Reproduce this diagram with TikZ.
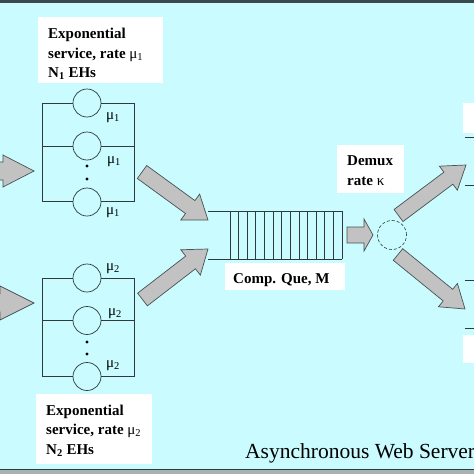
\documentclass[tikz,border=0pt]{standalone}
\usepackage{fontspec}
\setmainfont{Liberation Serif}
\usetikzlibrary{calc}
\definecolor{bgc}{HTML}{C9FBFF}
\definecolor{linec}{HTML}{2F3B3B}
\definecolor{arrfill}{HTML}{C2C2C2}
\definecolor{arrline}{HTML}{4A5252}
\definecolor{topbar}{HTML}{3A4A4A}
\definecolor{botbar}{HTML}{A9B2B2}
\tikzset{
  blockarrow/.style={fill=arrfill,draw=arrline,line width=0.7pt,line join=miter},
  wire/.style={draw=linec,line width=0.8pt},
  server/.style={circle,draw=linec,line width=0.7pt,fill=bgc,minimum size=28pt,inner sep=0pt},
  demuxc/.style={circle,draw=linec,line width=0.6pt,densely dashed,fill=bgc,minimum size=29pt,inner sep=0pt},
  dotc/.style={circle,fill=black,minimum size=3.4pt,inner sep=0pt},
  wbox/.style={fill=white,draw=none},
  boxtxt/.style={anchor=base west,inner sep=0pt,font=\bfseries\fontsize{15}{18}\selectfont},
  mulab/.style={anchor=base west,inner sep=0pt,font=\fontsize{15}{17}\selectfont},
}
\newcommand\blockarrow[6]{%
  \coordinate (#1h) at ($(#3)!#6!(#2)$);
  \filldraw[blockarrow] ($(#2)!#4!90:(#3)$) -- ($(#1h)!#4!-90:(#2)$) -- ($(#1h)!#5!-90:(#2)$) -- (#3)
    -- ($(#1h)!#5!90:(#2)$) -- ($(#1h)!#4!90:(#2)$) -- ($(#2)!#4!-90:(#3)$) -- cycle;
}
\begin{document}
\begin{tikzpicture}[x=1pt,y=-1pt]
\useasboundingbox (0,0) rectangle (474,474);
\clip (0,0) rectangle (474,474);
\fill[bgc] (0,0) rectangle (474,474);
\fill[topbar] (0,0) rectangle (474,2.5);
\fill[botbar] (0,469) rectangle (474,474);
\draw[linec,line width=1.2pt] (0,469.5) -- (474,469.5);

% ---- top server group ----
\draw[wire] (42,103) rectangle (134,201.5);
\draw[wire] (42,146) -- (134,146);
\node[server] (s11) at (87,103) {};
\node[server] (s12) at (87,146) {};
\node[server] (s13) at (87,202) {};
\node[dotc] (d11) at (87,166) {};
\node[dotc] (d12) at (87,179) {};
\node[mulab] (m11) at (106,119) {μ\textsubscript{1}};
\node[mulab] (m12) at (107,163) {μ\textsubscript{1}};
\node[mulab] (m13) at (106,214) {μ\textsubscript{1}};

% ---- bottom server group ----
\draw[wire] (42,278) rectangle (134,376);
\draw[wire] (42,320.5) -- (134,320.5);
\node[server] (s21) at (87,278) {};
\node[server] (s22) at (87,320.5) {};
\node[server] (s23) at (87,376.5) {};
\node[dotc] (d21) at (87,342) {};
\node[dotc] (d22) at (87,354) {};
\node[mulab] (m21) at (106,270) {μ\textsubscript{2}};
\node[mulab] (m22) at (108,315) {μ\textsubscript{2}};
\node[mulab] (m23) at (106,367) {μ\textsubscript{2}};

% ---- label boxes ----
\fill[wbox] (38,17) rectangle (163,83);
\node[boxtxt] (t1a) at (48,38) {Exponential};
\node[boxtxt] (t1b) at (48,58.5) {service, rate {\mdseries μ\textsubscript{1}}};
\node[boxtxt] (t1c) at (48,77.5) {N\textsubscript{1} EHs};

\fill[wbox] (36,394) rectangle (152,464);
\node[boxtxt] (t2a) at (46,415) {Exponential};
\node[boxtxt] (t2b) at (46,434.5) {service, rate {\mdseries μ\textsubscript{2}}};
\node[boxtxt] (t2c) at (46,454) {N\textsubscript{2} EHs};

% ---- queue ----
\draw[wire] (208,211) -- (342,211);
\draw[wire] (208,259) -- (342,259);
\foreach \i in {0,...,13} \draw[wire,line width=0.7pt] (230+\i*8.615,211) -- (230+\i*8.615,259);
\fill[wbox] (225,263) rectangle (345,290);
\node[boxtxt] (tq) at (233,283) {Comp. Que, M};

% ---- demux ----
\node[demuxc] (dm) at (392,235) {};
\fill[wbox] (337,145) rectangle (404,193);
\node[boxtxt] (td1) at (347,165) {Demux};
\node[boxtxt] (td2) at (347,185) {rate {\mdseries κ}};

% ---- right edge fragments ----
\fill[wbox] (463,103) rectangle (474,133);
\fill[wbox] (463,335) rectangle (474,363);
\draw[wire] (465,137) -- (474,137);
\draw[wire] (465,185) -- (474,185);
\draw[wire] (465,280) -- (474,280);
\draw[wire] (465,328) -- (474,328);

% ---- block arrows ----
\coordinate (la1b) at (-30,171);  \coordinate (la1t) at (34,171);
\coordinate (la2b) at (-30,303);  \coordinate (la2t) at (34,303);
\coordinate (da1b) at (142,172);  \coordinate (da1t) at (208,220);
\coordinate (da2b) at (142.5,299.5); \coordinate (da2t) at (208,249);
\coordinate (qab) at (347,235);   \coordinate (qat) at (373,235);
\coordinate (uab) at (398.5,215.5); \coordinate (uat) at (466,165);
\coordinate (dab) at (398,254.5); \coordinate (dat) at (465,309);
\blockarrow{la1}{la1b}{la1t}{9pt}{16pt}{31pt}
\blockarrow{la2}{la2b}{la2t}{9pt}{17pt}{34pt}
\blockarrow{da1}{da1b}{da1t}{8pt}{16pt}{22pt}
\blockarrow{da2}{da2b}{da2t}{8pt}{16pt}{22pt}
\blockarrow{qa}{qab}{qat}{8pt}{16pt}{9pt}
\blockarrow{ua}{uab}{uat}{7.5pt}{15pt}{22pt}
\blockarrow{dra}{dab}{dat}{7.5pt}{15pt}{22pt}

% ---- caption ----
\node[anchor=base west,inner sep=0pt,font=\fontsize{21.5}{24}\selectfont] (cap) at (245,458) {Asynchronous Web Server};
\end{tikzpicture}
\end{document}
